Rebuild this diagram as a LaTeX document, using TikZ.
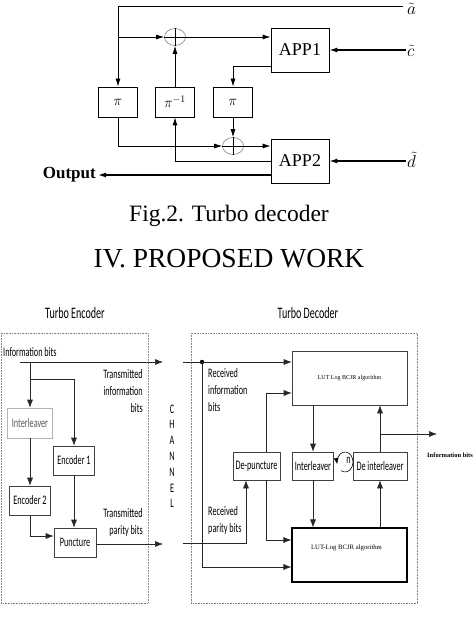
\documentclass[tikz,border=0pt]{standalone}
\usepackage{graphicx}
\usepackage{fontspec}
\setmainfont{Liberation Serif}
\newfontfamily\carl{Carlito}
\usetikzlibrary{arrows.meta,shapes.geometric}
\newcommand\nar[1]{\scalebox{0.63}[1]{#1}}
\begin{document}
\begin{tikzpicture}[x=1pt,y=-1pt,
  arr/.style={-{Latex[length=8pt,width=5pt]}, line width=0.8pt},
  tbox/.style={draw, line width=0.8pt, inner sep=0pt, font=\fontsize{18}{20}\selectfont},
  pibox/.style={tbox, minimum width=39pt, minimum height=30pt, font=\fontsize{14}{16}\selectfont},
  appbox/.style={tbox, minimum width=58pt, minimum height=44pt},
  adder/.style={ellipse, draw=gray, line width=0.6pt, minimum width=21pt, minimum height=17pt, inner sep=0pt},
  bbox/.style={draw=black!75, line width=0.6pt, inner sep=0pt, font=\carl\fontsize{13}{15}\selectfont},
  lbl/.style={font=\carl\fontsize{13}{16.8}\selectfont, inner sep=0pt},
  ttl/.style={font=\carl\fontsize{16}{18}\selectfont, inner sep=0pt},
  barr/.style={-{Latex[length=8pt,width=6pt]}, line width=0.6pt, black!85},
  frame/.style={densely dotted, gray, line width=0.6pt},
  inlbl/.style={inner sep=1pt, font=\fontsize{16}{18}\selectfont}]
\useasboundingbox (0,0) rectangle (474,631);
% ---------------- top: turbo decoder ----------------
\node[pibox] (pi1) at (118,102) {$\pi$};
\node[pibox] (pim) at (175,102) {$\pi^{-1}$};
\node[pibox] (pi3) at (233,102) {$\pi$};
\node[adder] (add1) at (175,37) {};
\node[adder] (add2) at (233,146) {};
\node[appbox] (APP1) at (300,50) {APP1};
\node[appbox] (APP2) at (300,161) {APP2};
\node[inlbl, anchor=west] (la) at (406,9) {$\tilde{a}$};
\node[inlbl, anchor=west] (lc) at (406,51) {$\tilde{c}$};
\node[inlbl, anchor=west] (ld) at (406,160) {$\tilde{d}$};
\node[inner sep=2pt, anchor=east, font=\bfseries\fontsize{17}{19}\selectfont] (out) at (98,175) {Output};
\coordinate (a0) at (403,6);
\coordinate (a1) at (118,6);
\coordinate (br1) at (118,37);
\coordinate (p3c) at (233,66);
\coordinate (b2) at (118,146);
\coordinate (f2) at (175,161);
\coordinate (o1) at (271,175);
\draw[line width=0.8pt] (a0) -- (a1);
\draw[arr] (a1) -- (pi1.north);
\draw[arr] (br1) -- (add1.west);
\draw[line width=0.6pt] (add1.west) -- (add1.east) (add1.north) -- (add1.south);
\draw[arr] (add1.east) -- (add1.east -| APP1.west);
\draw[arr] (pim.north) -- (add1.south);
\draw[arr, line width=1.2pt] (lc.west |- APP1.east) -- (APP1.east);
\draw[arr] (APP1.west |- p3c) -- (p3c) -- (pi3.north);
\draw[arr] (pi3.south) -- (add2.north);
\draw[line width=0.8pt] (add2.west) -- (add2.east) (add2.north) -- (add2.south);
\draw[arr] (pi1.south) -- (b2) -- (add2.west);
\draw[arr] (add2.east) -- (add2.east -| APP2.west);
\draw[arr] (APP2.west |- f2) -- (f2) -- (pim.south);
\draw[arr, line width=1.2pt] (ld.west |- APP2.east) -- (APP2.east);
\draw[arr, line width=1.2pt] (o1) -- (out.east |- o1);
% ---------------- captions ----------------
\node[font=\fontsize{23.5}{26}\selectfont] (cap) at (229,216) {Fig.2. Turbo decoder};
\node[font=\fontsize{27.5}{30}\selectfont] (sec) at (229,258.5) {IV. PROPOSED WORK};
% ---------------- bottom: encoder ----------------
\node[ttl] (tenc) at (75,313) {\nar{Turbo Encoder}};
\node[ttl] (tdec) at (308,313) {\nar{Turbo Decoder}};
\draw[frame] (1,333) rectangle (148,603);
\draw[frame] (191,333) rectangle (417,603);
\node[lbl, anchor=base west] (ib) at (3,356.5) {\nar{Information bits}};
\node[bbox, draw=gray!60, text=gray!70!black, minimum width=45pt, minimum height=30pt] (il) at (30,423) {\nar{Interleaver}};
\node[bbox, minimum width=41pt, minimum height=29pt] (e1) at (74,460.5) {\nar{Encoder 1}};
\node[bbox, minimum width=41pt, minimum height=29pt] (e2) at (30,500.5) {\nar{Encoder 2}};
\node[bbox, minimum width=42pt, minimum height=29pt] (pu) at (75,542.5) {\nar{Puncture}};
\node[lbl, anchor=north east, align=right] (ti) at (143,369.5) {\nar{Transmitted}\\\nar{information}\\\nar{bits}};
\node[lbl, anchor=north east, align=right] (tp) at (143,508.5) {\nar{Transmitted}\\\nar{parity bits}};
\node[lbl, anchor=north, align=center, font=\carl\fontsize{13}{15.8}\selectfont] (ch) at (172,404.5) {\nar{C}\\\nar{H}\\\nar{A}\\\nar{N}\\\nar{N}\\\nar{E}\\\nar{L}};
\coordinate (is) at (20,362);
\coordinate (ie) at (163,362);
\coordinate (d1) at (30,362);
\coordinate (d2) at (30,379);
\coordinate (d3) at (74,379);
\coordinate (e2c) at (30,536);
\coordinate (pe) at (163,544);
\draw[barr] (is) -- (ie);
\draw[barr] (d1) -- (il.north);
\draw[barr] (d2) -- (d3) -- (e1.north);
\draw[barr] (il.south) -- (e2.north);
\draw[barr] (e1.south) -- (e1.south |- pu.north);
\draw[barr] (e2.south) -- (e2c) -- (e2c -| pu.west);
\draw[barr] (pu.east |- pe) -- (pe);
% ---------------- bottom: decoder ----------------
\node[bbox, minimum width=115pt, minimum height=54pt, font=\fontsize{6}{7}\selectfont] (lut1) at (349.5,378) {LUT Log BCJR algorithm};
\node[bbox, line width=1.1pt, draw=black, minimum width=115pt, minimum height=54pt] (lut2) at (349.5,555) {};
\node[font=\fontsize{6.7}{7.5}\selectfont, inner sep=0pt] (lut2t) at (346.5,548) {LUT-Log BCJR algorithm};
\node[bbox, minimum width=47pt, minimum height=28pt] (dep) at (256.5,466) {\nar{De-puncture}};
\node[bbox, minimum width=41pt, minimum height=28pt] (dint) at (313,466) {\nar{Interleaver}};
\node[bbox, minimum width=54pt, minimum height=28pt] (deint) at (380,466) {\nar{De interleaver}};
\node[lbl, anchor=north west, align=left] (ri) at (208,368.7) {\nar{Received}\\\nar{information}\\\nar{bits}};
\node[lbl, anchor=north west, align=left] (rp) at (208,506.7) {\nar{Received}\\\nar{parity bits}};
\node[circle, fill, inner sep=0pt, minimum size=4.5pt] (dot) at (202,362) {};
\node[font=\bfseries\fontsize{6.5}{7}\selectfont, anchor=west, inner sep=0pt] (ob) at (427,455.5) {Information bits};
\node[lbl] (nn) at (348.5,460) {\nar{n}};
\coordinate (ri0) at (183,362);
\coordinate (dd) at (202,567);
\coordinate (pi0) at (183,543);
\coordinate (pk) at (246,543);
\coordinate (dpt) at (266,393);
\coordinate (dpb) at (266,540);
\coordinate (bo) at (380,434);
\coordinate (boe) at (437,434);
\draw[barr] (ri0) -- (ri0 -| lut1.west);
\draw[barr] (dot) -- (dd) -- (dd -| lut2.west);
\draw[barr] (pi0) -- (pk) -- (pk |- dep.south);
\draw[barr] (dpt |- dep.north) -- (dpt) -- (dpt -| lut1.west);
\draw[barr] (dpb |- dep.south) -- (dpb) -- (dpb -| lut2.west);
\draw[barr] (dint.north |- lut1.south) -- (dint.north);
\draw[barr] (dint.south) -- (dint.south |- lut2.north);
\draw[barr] (deint.south |- lut2.north) -- (deint.south);
\draw[barr] (deint.north) -- (deint.north |- lut1.south);
\draw[barr] (bo) -- (boe);
\draw[-{Latex[length=6pt,width=5pt]}, line width=0.6pt] (345,462) ++(120:8 and 10) arc[start angle=120, end angle=-192, x radius=8, y radius=10];
\end{tikzpicture}
\end{document}
